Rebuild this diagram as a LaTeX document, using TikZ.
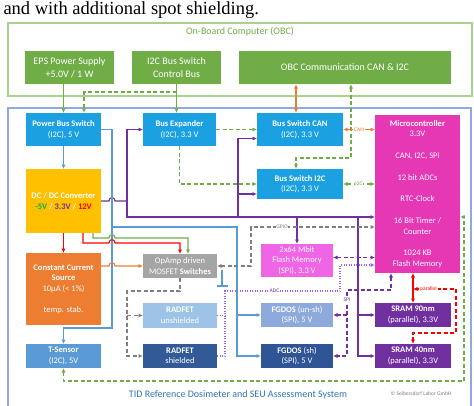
\documentclass[tikz,border=0pt]{standalone}
\usepackage{fontspec}
\setmainfont{Carlito}
\newfontfamily\capfont{Liberation Serif}
\usepackage{tikz}
\usetikzlibrary{arrows.meta,calc}
\definecolor{GreenObc}{RGB}{112,173,71}
\definecolor{GreenFrame}{RGB}{169,209,142}
\definecolor{BlueFrame}{RGB}{143,170,220}
\definecolor{BlueTitle}{RGB}{46,117,182}
\definecolor{CyanBus}{RGB}{27,161,226}
\definecolor{YellowDcdc}{RGB}{255,192,0}
\definecolor{OrangeCcs}{RGB}{237,125,49}
\definecolor{BlueTemp}{RGB}{91,155,213}
\definecolor{GrayOpamp}{RGB}{165,165,165}
\definecolor{BlueRadUn}{RGB}{157,195,230}
\definecolor{BlueRadSh}{RGB}{50,90,150}
\definecolor{PinkFlash}{RGB}{240,100,230}
\definecolor{MagentaMcu}{RGB}{230,55,180}
\definecolor{BlueFgUn}{RGB}{142,169,219}
\definecolor{BlueFgSh}{RGB}{47,85,151}
\definecolor{PurpleSram}{RGB}{112,48,160}
\definecolor{PurpleDot}{RGB}{150,100,240}
\definecolor{GreenVolt}{RGB}{0,176,80}
\definecolor{RedLine}{RGB}{255,0,0}
\definecolor{GrayLine}{RGB}{127,127,127}

\begin{document}
\begin{tikzpicture}[x=1pt,y=-1pt,>={Latex[length=4.5pt,width=4.2pt]},
  box/.style={fill=#1,text=white,align=center,anchor=north west,inner sep=0pt,outer sep=0pt,font=\fontsize{8.5}{10.5}\selectfont},
  obcbox/.style={fill=GreenObc,text=white,align=center,anchor=north west,inner sep=0pt,outer sep=0pt,font=\fontsize{10}{12.5}\selectfont},
  wire/.style={line width=1.1pt,#1},
  dashwire/.style={line width=1.1pt,#1,dash pattern=on 4pt off 2.5pt},
  adcwire/.style={line width=1.1pt,PurpleDot,dash pattern=on 1pt off 1.5pt},
  tag/.style={fill=white,inner sep=0.8pt,font=\fontsize{5.5}{6}\selectfont,text=#1}]
  \useasboundingbox (0,0) rectangle (474,405);
  \node[anchor=base west,font=\capfont\fontsize{18.5}{22}\selectfont] (cap) at (0,14) {and with additional spot shielding.};

  % frames
  \draw[GreenFrame,line width=1.1pt] (8,23) rectangle (472,96);
  \node[text=GreenObc,font=\fontsize{10}{12}\selectfont] (obctitle) at (240,32) {On-Board Computer (OBC)};
  \draw[BlueFrame,line width=1.1pt] (8,108) rectangle (471,420);
  \node[text=BlueTitle,font=\fontsize{10}{12}\selectfont] (tidtitle) at (238,395) {TID Reference Dosimeter and SEU Assessment System};
  \node[text=GrayLine,font=\fontsize{5.5}{6}\selectfont] (copyr) at (421,394) {© Seibersdorf Labor GmbH};

  % OBC boxes
  \node[obcbox,minimum width=89pt,minimum height=33pt] (eps) at (25,51) {EPS Power Supply\\+5.0V / 1 W};
  \node[obcbox,minimum width=89pt,minimum height=33pt] (i2cbus) at (132,51) {I2C Bus Switch\\Control Bus};
  \node[obcbox,minimum width=212pt,minimum height=33pt] (obccom) at (239,51) {OBC Communication CAN \& I2C};

  % TID boxes
  \node[box=CyanBus,minimum width=75pt,minimum height=33pt] (pbs) at (26,113) {\textbf{Power Bus Switch}\\(I2C), 5 V};
  \node[box=CyanBus,minimum width=73pt,minimum height=33pt] (bexp) at (143,113) {\textbf{Bus Expander}\\(I2C), 3.3 V};
  \node[box=CyanBus,minimum width=86pt,minimum height=33pt] (bcan) at (257,113) {\textbf{Bus Switch CAN}\\(I2C), 3.3 V};
  \node[box=CyanBus,minimum width=86pt,minimum height=30pt] (bi2c) at (257,169) {\textbf{Bus Switch I2C}\\(I2C), 3.3 V};
  \node[box=MagentaMcu,minimum width=85pt,minimum height=158pt,font=\fontsize{8.5}{10.8}\selectfont] (mcu) at (375,115) {\textbf{Microcontroller}\\3.3V\\[10.8pt]CAN, I2C, SPI\\[10.8pt]12 bit ADCs\\[10.8pt]RTC-Clock\\[10.8pt]16 Bit Timer /\\Counter\\[10.8pt]1024 KB\\Flash Memory};
  \node[box=YellowDcdc,minimum width=75pt,minimum height=64pt] (dcdc) at (26,169) {\textbf{DC / DC Converter}\\\textbf{\textcolor{GreenVolt}{-5V} / \textcolor{PurpleSram}{3.3V} / \textcolor{RedLine}{12V}}};
  \node[box=OrangeCcs,minimum width=75pt,minimum height=72pt] (ccs) at (26,253) {\textbf{Constant Current}\\\textbf{Source}\\10μA (< 1\%)\\[10.5pt]temp. stab.};
  \node[box=BlueTemp,minimum width=75pt,minimum height=24pt] (tsens) at (26,344) {\textbf{T-Sensor}\\(I2C), 5V};
  \node[box=GrayOpamp,minimum width=74pt,minimum height=24pt] (opamp) at (143,254) {OpAmp driven\\MOSFET \textbf{Switches}};
  \node[box=BlueRadUn,minimum width=74pt,minimum height=25pt] (rfu) at (143,303) {\textbf{RADFET}\\unshielded};
  \node[box=BlueRadSh,minimum width=74pt,minimum height=24pt] (rfs) at (143,344) {\textbf{RADFET}\\shielded};
  \node[box=PinkFlash,minimum width=72pt,minimum height=33pt] (flash) at (261,244) {2x64 Mbit\\Flash Memory\\(SPI), 3.3 V};
  \node[box=BlueFgUn,minimum width=72pt,minimum height=24pt] (fgu) at (261,303) {\textbf{FGDOS} (un-sh)\\(SPI), 5 V};
  \node[box=BlueFgSh,minimum width=72pt,minimum height=24pt] (fgs) at (261,344) {\textbf{FGDOS} (sh)\\(SPI), 5 V};
  \node[box=PurpleSram,minimum width=76pt,minimum height=24pt] (sr90) at (375,303) {\textbf{SRAM 90nm}\\(parallel), 3.3V};
  \node[box=PurpleSram,minimum width=76pt,minimum height=24pt] (sr40) at (375,344) {\textbf{SRAM 40nm}\\(parallel), 3.3V};

  % OBC links
  \draw[wire=GreenObc,->] (eps.south -| pbs.north) -- (pbs.north);
  \draw[wire=GreenObc,->] (i2cbus.south) -- (i2cbus.south |- bexp.north);
  \coordinate (ctrl) at (176.5,92);
  \draw[dashwire=GreenObc,->] (ctrl) -| ([xshift=20.5pt]pbs.north);
  \coordinate (canx) at (296,0);
  \draw[wire=OrangeCcs,<->] (obccom.south -| canx) -- (bcan.north -| canx);
  \coordinate (i2cup) at (351,158);
  \draw[dashwire=GreenObc,<->] (obccom.south -| i2cup) -- (i2cup) -| (bi2c.north -| canx);

  % bus links
  \draw[wire=OrangeCcs,<->] (bcan.east) -- (bcan.east -| mcu.west) node[midway,tag=OrangeCcs] (canlbl) {CAN};
  \draw[dashwire=GreenObc,<->] (bi2c.east) -- (bi2c.east -| mcu.west) node[midway,tag=GreenObc] (i2clbl) {I2C};
  \draw[dashwire=GreenObc,->] (bexp.east) -- (bexp.east -| bcan.west);
  \draw[dashwire=GreenObc,->] (bexp.south) |- (bi2c.west);

  % 3.3 V supply
  \coordinate (pa) at (127,201);
  \coordinate (pbus) at (127,217);
  \draw[wire=PurpleSram] (dcdc.east) -- (109,201) .. controls (109,196.5) and (115,196.5) .. (115,201) -- (pa);
  \draw[wire=PurpleSram,->] (pa) |- (bexp.west);
  \draw[wire=PurpleSram,->] (pa) -- (pbus) -- (pbus -| mcu.west);
  \coordinate (pcan) at (238,217);
  \draw[wire=PurpleSram,->] (pcan) |- ([yshift=-9pt]bcan.west);
  \draw[wire=PurpleSram,->] (pcan) |- ([yshift=-10pt]bi2c.west);
  \draw[wire=PurpleSram,->] (flash.north |- pbus) -- (flash.north);
  \coordinate (psram) at (358,217);
  \draw[wire=PurpleSram,->] (psram) |- (sr40.west);
  \draw[wire=PurpleSram,->] (psram |- sr90.west) -- (sr90.west);

  % 5 V supply
  \coordinate (bturn) at (112,328);
  \draw[wire=BlueTemp,->] (pbs.east) -| (bturn) -| (tsens.north);
  \draw[wire=BlueTemp,->] (pbs.south) -- (dcdc.north);
  \coordinate (bfg) at (237,227);
  \draw[wire=BlueTemp,->] (bturn |- bfg) -- (bfg) |- (fgs.west);
  \draw[wire=BlueTemp,->] (bfg |- fgu.west) -- (fgu.west);

  % DC/DC outputs
  \draw[wire=RedLine,->] (dcdc.south) -- (ccs.north);
  \draw[wire=RedLine,->] ([xshift=19.5pt]dcdc.south) |- (109,243) .. controls (109,238.5) and (115,238.5) .. (115,243) -| (opamp.north);
  \draw[wire=GreenObc,->] ([xshift=29.5pt]dcdc.south) |- (109,238) .. controls (109,233.5) and (115,233.5) .. (115,238) -| ([xshift=8pt]opamp.north);
  \draw[wire=OrangeCcs,->] (ccs.east |- opamp.west) -- (109,266) .. controls (109,261.5) and (115,261.5) .. (115,266) -- (opamp.west);

  % switches to RADFETs
  \coordinate (rx) at (127,291);
  \draw[dashwire=GrayLine,->] (opamp.south) |- (rx) |- (rfs.west);
  \draw[dashwire=GrayLine,->] (rx |- rfu.west) -- (rfu.west);
  \draw[wire=BlueTemp] (222,270) -- (222,286) (217,286) -- (228,286);

  % GPIO
  \coordinate (gp) at (251,227);
  \draw[dashwire=GrayLine,<->] (opamp.east) -| (gp) -- (gp -| mcu.west) node[pos=0.25,tag=GrayLine] (gpiolbl) {GPIO};

  % flash
  \coordinate (flr) at ([yshift=3pt]flash.east);
  \draw[dashwire=PurpleSram,<->] (flr) -- (flr -| mcu.west);

  % ADC
  \coordinate (ax) at (225,291);
  \coordinate (ay) at (340,291);
  \coordinate (az) at (340,265);
  \draw[adcwire] (rfu.east) -- (rfu.east -| ax);
  \draw[adcwire,->] (rfs.east) -| (ax) -- (ay) node[pos=0.43,tag=PurpleSram] (adclbl) {ADC} -- (az) -- (az -| mcu.west);

  % SPI
  \coordinate (sx) at (347,290);
  \draw[dashwire=PurpleSram,<->] ([xshift=-26.5pt]mcu.south) |- (sx) |- (fgs.east);
  \draw[dashwire=PurpleSram,->] (sx |- fgu.east) -- (fgu.east);
  \node[tag=PurpleSram] (spilbl) at (347,300) {SPI};

  % parallel
  \draw[wire=RedLine,<->] (sr90.north |- mcu.south) -- (sr90.north);
  \coordinate (pr1) at (456,289);
  \coordinate (pr2) at (456,333);
  \draw[dashwire=RedLine,<->] (sr90.north |- pr1) -- (pr1) node[pos=0.36,tag=RedLine] (parlbl) {parallel} -- (pr2) -| (sr40.north);

  % T-sensor
  \coordinate (gb) at (464,381);
  \coordinate (gm) at (464,217);
  \draw[dashwire=GreenObc,<->] (tsens.south) |- (gb) -- (gm) -- (gm -| mcu.east);
\end{tikzpicture}
\end{document}
